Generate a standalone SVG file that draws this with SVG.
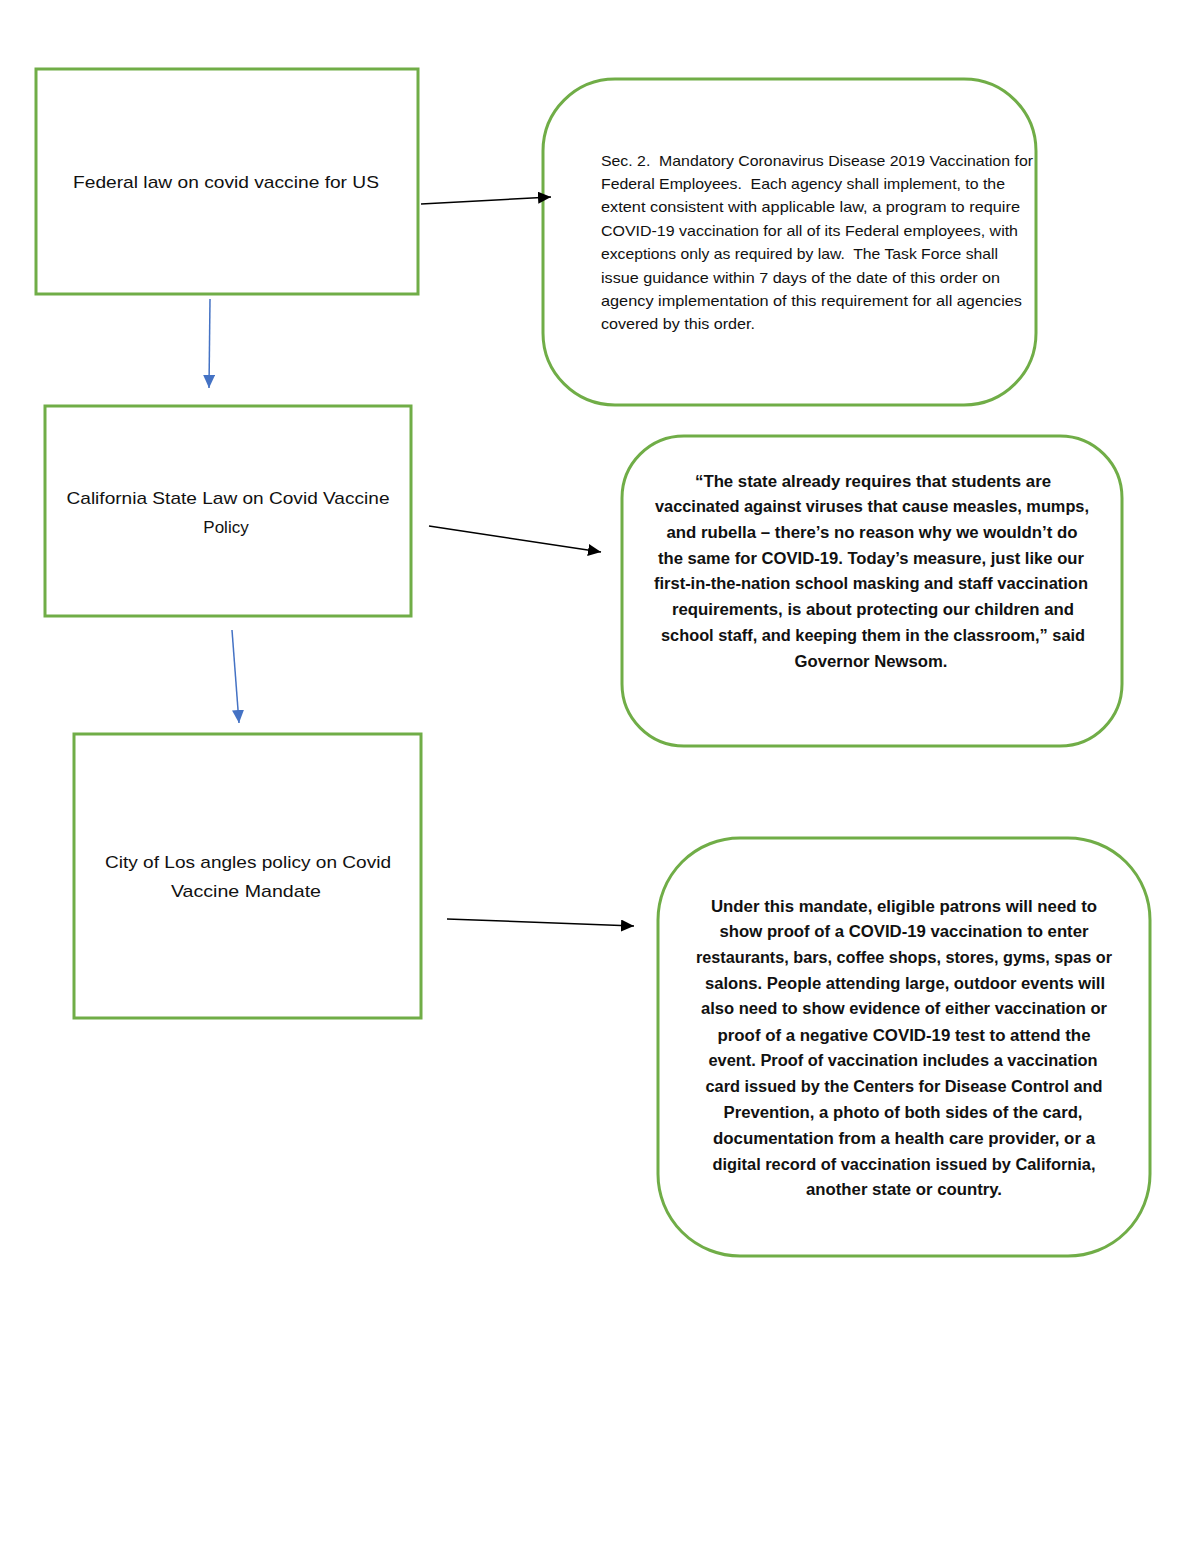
<svg xmlns="http://www.w3.org/2000/svg" width="1200" height="1553" viewBox="0 0 1200 1553">
<style>
.box{fill:#fff;stroke:#70AD47;stroke-width:3}
.lbl{font-family:"Liberation Sans",Arial,sans-serif;font-size:17px;fill:#111;text-anchor:middle}
.t1{font-family:"Liberation Sans",Arial,sans-serif;font-size:14.5px;fill:#111;white-space:pre}
.tb{font-family:"Liberation Sans",Arial,sans-serif;font-size:16px;font-weight:bold;fill:#111;text-anchor:middle}
.blk{stroke:#000;stroke-width:1.5;fill:none}
.blu{stroke:#4472C4;stroke-width:1.5;fill:none}
</style>
<defs>
<marker id="ab" markerUnits="userSpaceOnUse" markerWidth="14" markerHeight="12" refX="13" refY="6" orient="auto"><path d="M0,0 L13,6 L0,12 Z" fill="#000"/></marker>
<marker id="au" markerUnits="userSpaceOnUse" markerWidth="14" markerHeight="12" refX="13" refY="6" orient="auto"><path d="M0,0 L13,6 L0,12 Z" fill="#4472C4"/></marker>
</defs>
<rect width="1200" height="1553" fill="#fff"/>
<g id="federal">
<rect class="box" x="36" y="69" width="382" height="225"/>
<text class="lbl" x="226" y="188" textLength="306" lengthAdjust="spacingAndGlyphs">Federal law on covid vaccine for US</text>
</g>
<g id="california">
<rect class="box" x="45" y="406" width="366" height="210"/>
<text class="lbl" x="228" y="504" textLength="323" lengthAdjust="spacingAndGlyphs">California State Law on Covid Vaccine</text>
<text class="lbl" x="226" y="533">Policy</text>
</g>
<g id="losangeles">
<rect class="box" x="74" y="734" width="347" height="284"/>
<text class="lbl" x="248" y="868" textLength="286" lengthAdjust="spacingAndGlyphs">City of Los angles policy on Covid</text>
<text class="lbl" x="246" y="897" textLength="150" lengthAdjust="spacingAndGlyphs">Vaccine Mandate</text>
</g>
<g id="federal-text">
<rect class="box" x="543" y="79" width="493" height="326" rx="72" ry="72"/>
<text class="t1" xml:space="preserve" x="601" y="166" textLength="432" lengthAdjust="spacingAndGlyphs">Sec. 2.  Mandatory Coronavirus Disease 2019 Vaccination for</text>
<text class="t1" xml:space="preserve" x="601" y="189" textLength="404" lengthAdjust="spacingAndGlyphs">Federal Employees.  Each agency shall implement, to the</text>
<text class="t1" x="601" y="212" textLength="419" lengthAdjust="spacingAndGlyphs">extent consistent with applicable law, a program to require</text>
<text class="t1" x="601" y="236" textLength="417" lengthAdjust="spacingAndGlyphs">COVID-19 vaccination for all of its Federal employees, with</text>
<text class="t1" xml:space="preserve" x="601" y="259" textLength="397" lengthAdjust="spacingAndGlyphs">exceptions only as required by law.  The Task Force shall</text>
<text class="t1" x="601" y="283" textLength="399" lengthAdjust="spacingAndGlyphs">issue guidance within 7 days of the date of this order on</text>
<text class="t1" x="601" y="306" textLength="421" lengthAdjust="spacingAndGlyphs">agency implementation of this requirement for all agencies</text>
<text class="t1" x="601" y="329" textLength="154" lengthAdjust="spacingAndGlyphs">covered by this order.</text>
</g>
<g id="california-text">
<rect class="box" x="622" y="436" width="500" height="310" rx="62" ry="62"/>
<text class="tb" x="873" y="487" textLength="356" lengthAdjust="spacingAndGlyphs">“The state already requires that students are</text>
<text class="tb" x="872" y="512" textLength="434" lengthAdjust="spacingAndGlyphs">vaccinated against viruses that cause measles, mumps,</text>
<text class="tb" x="872" y="538" textLength="411" lengthAdjust="spacingAndGlyphs">and rubella – there’s no reason why we wouldn’t do</text>
<text class="tb" x="871" y="564" textLength="426" lengthAdjust="spacingAndGlyphs">the same for COVID-19. Today’s measure, just like our</text>
<text class="tb" x="871" y="589" textLength="434" lengthAdjust="spacingAndGlyphs">first-in-the-nation school masking and staff vaccination</text>
<text class="tb" x="873" y="615" textLength="402" lengthAdjust="spacingAndGlyphs">requirements, is about protecting our children and</text>
<text class="tb" x="873" y="641" textLength="424" lengthAdjust="spacingAndGlyphs">school staff, and keeping them in the classroom,” said</text>
<text class="tb" x="871" y="667" textLength="153" lengthAdjust="spacingAndGlyphs">Governor Newsom.</text>
</g>
<g id="la-text">
<rect class="box" x="658" y="838" width="492" height="418" rx="82" ry="82"/>
<text class="tb" x="904" y="912" textLength="386" lengthAdjust="spacingAndGlyphs">Under this mandate, eligible patrons will need to</text>
<text class="tb" x="904" y="937" textLength="369" lengthAdjust="spacingAndGlyphs">show proof of a COVID-19 vaccination to enter</text>
<text class="tb" x="904" y="963" textLength="416" lengthAdjust="spacingAndGlyphs">restaurants, bars, coffee shops, stores, gyms, spas or</text>
<text class="tb" x="905" y="989" textLength="400" lengthAdjust="spacingAndGlyphs">salons. People attending large, outdoor events will</text>
<text class="tb" x="904" y="1014" textLength="406" lengthAdjust="spacingAndGlyphs">also need to show evidence of either vaccination or</text>
<text class="tb" x="904" y="1041" textLength="373" lengthAdjust="spacingAndGlyphs">proof of a negative COVID-19 test to attend the</text>
<text class="tb" x="903" y="1066" textLength="389" lengthAdjust="spacingAndGlyphs">event. Proof of vaccination includes a vaccination</text>
<text class="tb" x="904" y="1092" textLength="397" lengthAdjust="spacingAndGlyphs">card issued by the Centers for Disease Control and</text>
<text class="tb" x="903" y="1118" textLength="359" lengthAdjust="spacingAndGlyphs">Prevention, a photo of both sides of the card,</text>
<text class="tb" x="904" y="1144" textLength="382" lengthAdjust="spacingAndGlyphs">documentation from a health care provider, or a</text>
<text class="tb" x="904" y="1170" textLength="383" lengthAdjust="spacingAndGlyphs">digital record of vaccination issued by California,</text>
<text class="tb" x="904" y="1195" textLength="196" lengthAdjust="spacingAndGlyphs">another state or country.</text>
</g>
<g id="connectors">
<line class="blk" x1="421" y1="204" x2="551" y2="197" marker-end="url(#ab)"/>
<line class="blk" x1="429" y1="526" x2="601" y2="552" marker-end="url(#ab)"/>
<line class="blk" x1="447" y1="919" x2="634" y2="926" marker-end="url(#ab)"/>
<line class="blu" x1="210" y1="299" x2="209" y2="388" marker-end="url(#au)"/>
<line class="blu" x1="232" y1="630" x2="239" y2="723" marker-end="url(#au)"/>
</g>
</svg>
